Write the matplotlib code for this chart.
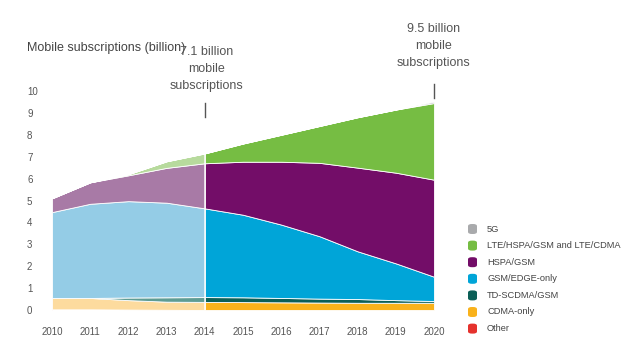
import matplotlib.pyplot as plt
from matplotlib.patches import FancyBboxPatch

plt.rcParams["font.family"] = ["Liberation Sans", "DejaVu Sans"]

# --- Data (billion subscriptions) ---
years = [2010, 2011, 2012, 2013, 2014, 2015, 2016, 2017, 2018, 2019, 2020]
other    = [0.03, 0.03, 0.02, 0.01, 0.0, 0.0, 0.0, 0.0, 0.0, 0.0, 0.0]
cdma     = [0.52, 0.52, 0.43, 0.37, 0.37, 0.36, 0.35, 0.34, 0.33, 0.33, 0.33]
td_scdma = [0.0, 0.0, 0.12, 0.20, 0.22, 0.22, 0.20, 0.18, 0.17, 0.12, 0.08]
gsm_edge = [3.92, 4.30, 4.40, 4.32, 4.05, 3.77, 3.35, 2.85, 2.18, 1.68, 1.11]
hspa     = [0.63, 0.98, 1.18, 1.59, 2.06, 2.42, 2.87, 3.35, 3.82, 4.14, 4.43]
lte      = [0.0, 0.0, 0.05, 0.30, 0.45, 0.83, 1.23, 1.68, 2.30, 2.88, 3.50]
g5       = [0.0, 0.0, 0.0, 0.0, 0.0, 0.0, 0.0, 0.0, 0.0, 0.0, 0.06]

series = [other, cdma, td_scdma, gsm_edge, hspa, lte, g5]
colors_dark  = ["#e5322d", "#f9b21b", "#0b5f57", "#00a5d8", "#730d68", "#76bd43", "#a9aaac"]
colors_light = ["#f3a5a0", "#fddb9e", "#5e9c94", "#94cce6", "#a87aa6", "#b7da9d", "#d3d4d5"]

legend_labels = ["5G", "LTE/HSPA/GSM and LTE/CDMA", "HSPA/GSM", "GSM/EDGE-only",
                 "TD-SCDMA/GSM", "CDMA-only", "Other"]
legend_colors = ["#a9aaac", "#76bd43", "#730d68", "#00a5d8", "#0b5f57", "#f9b21b", "#e5322d"]

yticks = list(range(0, 11))

fig = plt.figure(figsize=(6.4, 3.6), dpi=100)
ax = fig.add_axes([52 / 640, 1 - 310 / 360, 382 / 640, 219 / 360])

# past (lighter) and forecast (full colour) parts
ax.stackplot(years[:5], [s[:5] for s in series], colors=colors_light,
             edgecolor="white", linewidth=0.6)
ax.stackplot(years[4:], [s[4:] for s in series], colors=colors_dark,
             edgecolor="white", linewidth=0.6)
ax.axvline(2014, color="white", lw=1.2, alpha=0.8)

ax.set_xlim(2010, 2020)
ax.set_ylim(0, 10)
for sp in ax.spines.values():
    sp.set_visible(False)
ax.set_xticks(years)
ax.set_yticks(yticks)
ax.tick_params(length=0, labelsize=7, colors="#555555")
for lbl in ax.get_yticklabels():
    lbl.set_horizontalalignment("left")
ax.tick_params(axis="y", pad=18)
ax.tick_params(axis="x", pad=12)

# title
fig.text(27 / 640, 1 - 48 / 360, "Mobile subscriptions (billion)", fontsize=9,
         color="#444444", va="center", ha="left")

# annotations
total = [sum(v) for v in zip(*series)]
fig.text(207 / 640, 1 - 69 / 360, "7.1 billion\nmobile\nsubscriptions", ha="center",
         va="center", fontsize=9, color="#555555", linespacing=1.6)
ax.plot([2014, 2014], [8.8, 9.45], color="#555555", lw=1, clip_on=False)
fig.text(434 / 640, 1 - 46 / 360, "9.5 billion\nmobile\nsubscriptions", ha="center",
         va="center", fontsize=9, color="#555555", linespacing=1.6)
ax.plot([2020, 2020], [total[-1] + 0.15, total[-1] + 0.8], color="#555555", lw=1, clip_on=False)

# legend
for i, (lab, col) in enumerate(zip(legend_labels, legend_colors)):
    yc = 1 - (229 + i * 16.6) / 360
    fig.patches.append(FancyBboxPatch((468 / 640, yc - 5 / 360), 9 / 640, 10 / 360,
                                      boxstyle="round,pad=0,rounding_size=0.006",
                                      transform=fig.transFigure, facecolor=col,
                                      edgecolor="none"))
    fig.text(487 / 640, yc, lab, fontsize=6.7, color="#444444", va="center", ha="left")

fig.savefig("out.png", dpi=100)
